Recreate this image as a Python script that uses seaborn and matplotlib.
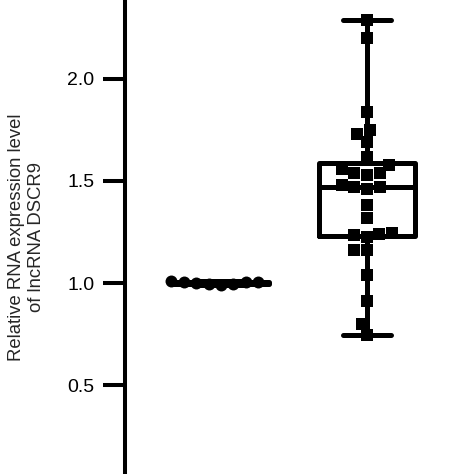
import pandas as pd
import matplotlib.pyplot as plt
import seaborn as sns

# Values
groups = ['Control', 'DSCR9']
control_values = [1.0, 0.993, 1.007, 1.01, 0.99, 1.003, 0.997, 1.006]
dscr9_values = [2.29, 2.20, 1.84, 1.75, 1.73, 1.69, 1.62, 1.58, 1.56, 1.54, 1.54,
                1.53, 1.48, 1.47, 1.47, 1.46, 1.38, 1.32, 1.245, 1.24, 1.235,
                1.225, 1.16, 1.16, 1.04, 0.91, 0.80, 0.745]
y_ticks = [0.5, 1.0, 1.5, 2.0]
y_label = 'Relative RNA expression level\nof lncRNA DSCR9'

df = pd.DataFrame({
    'group': [groups[0]] * len(control_values) + [groups[1]] * len(dscr9_values),
    'value': control_values + dscr9_values,
})

sns.set_theme(style='white')
plt.rcParams['font.family'] = ['Liberation Sans', 'DejaVu Sans']

fig = plt.figure(figsize=(4.74, 4.74), dpi=100)
ax = fig.add_axes([125 / 474, 0, 1 - 125 / 474, 1])

sns.boxplot(data=df, x='group', y='value', order=groups, whis=(0, 100),
            width=0.66, fill=False, color='black', linewidth=3.6,
            showfliers=False, ax=ax)
sns.swarmplot(data=df[df['group'] == groups[0]], x='group', y='value', order=groups,
              color='black', marker='o', size=8.6, ax=ax)
sns.swarmplot(data=df[df['group'] == groups[1]], x='group', y='value', order=groups,
              color='black', marker='s', size=8.8, ax=ax)

ax.set_xlim(-0.658, 1.733)
ax.set_ylim(0.064, 2.387)
ax.set_yticks(y_ticks)
ax.set_yticklabels([f'{t:.1f}' for t in y_ticks], fontsize=14)
ax.set_xticks([])
ax.set_xlabel('')
ax.set_ylabel(y_label, fontsize=13.3, labelpad=16)

for side in ['top', 'right', 'bottom']:
    ax.spines[side].set_visible(False)
ax.spines['left'].set_linewidth(2.9)
ax.spines['left'].set_color('black')
ax.tick_params(axis='y', left=True, length=16, width=2.9, pad=6, colors='black')

fig.savefig('out.png', dpi=100)
